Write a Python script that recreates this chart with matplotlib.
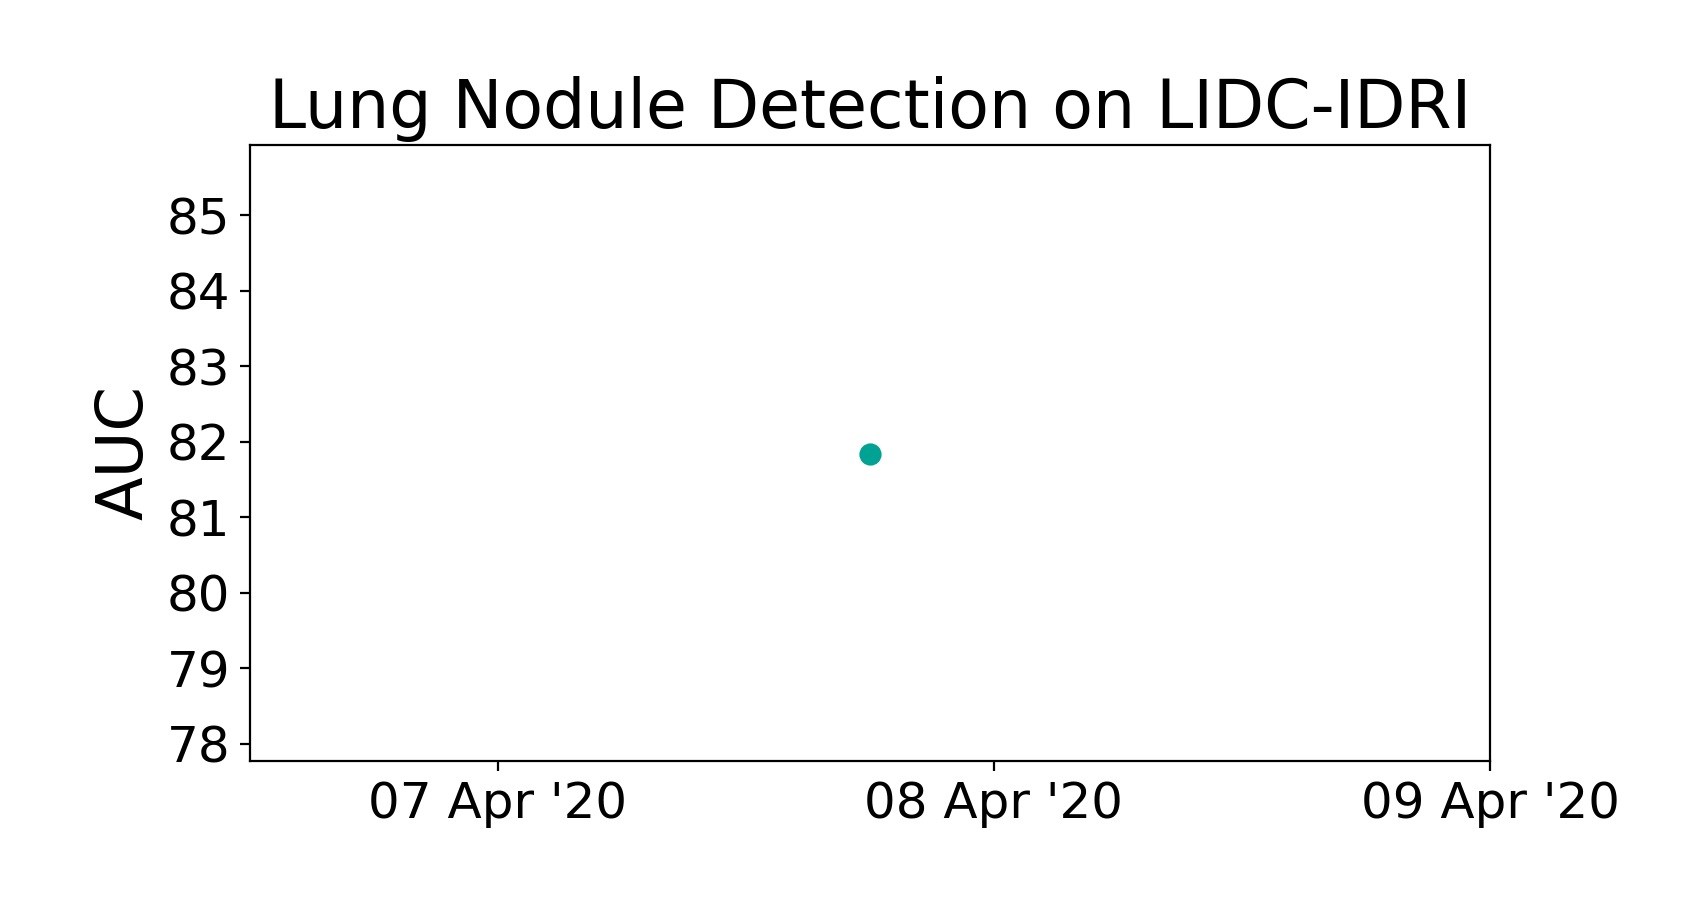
#Imports
import pandas as pd
import matplotlib
matplotlib.use('Agg')
import matplotlib.pyplot as plt
import matplotlib.dates as mdates

#Data
dates = ['2020-04-07 18:00']
auc = [81.83]
x_start = '2020-04-06 12:00'
x_end = '2020-04-09 00:00'
tick_dates = ['2020-04-07', '2020-04-08', '2020-04-09']
y_ticks = [78, 79, 80, 81, 82, 83, 84, 85]

datesClean = pd.to_datetime(dates)

fig = plt.figure(figsize=(8.5, 4.5), dpi=200)
ax1 = fig.add_axes([0.147, 0.1544, 0.7295, 0.6846])

ax1.plot(datesClean, auc, 'o', color='#00a293', markersize=7)

ax1.set_xlim(pd.Timestamp(x_start), pd.Timestamp(x_end))
ax1.set_xticks(pd.to_datetime(tick_dates))
ax1.xaxis.set_major_formatter(mdates.DateFormatter("%d %b '%y"))
ax1.set_ylim(77.77, 85.93)
ax1.set_yticks(y_ticks)
ax1.tick_params(labelsize=18)

ax1.set_ylabel('AUC', fontsize=23)
ax1.set_title('Lung Nodule Detection on LIDC-IDRI', fontsize=24)

fig.savefig('out.png')
